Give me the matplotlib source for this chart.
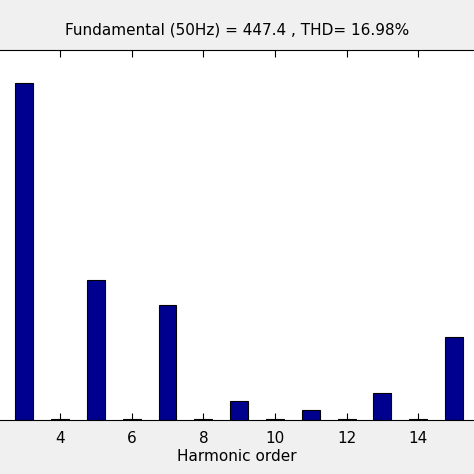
import matplotlib
matplotlib.use("Agg")
import matplotlib.pyplot as plt

orders = [3, 4, 5, 6, 7, 8, 9, 10, 11, 12, 13, 14, 15]
mags = [14.56, 0.05, 6.05, 0.05, 4.97, 0.05, 0.82, 0.05, 0.43, 0.05, 1.17, 0.05, 3.59]
xticks = [4, 6, 8, 10, 12, 14]

fig = plt.figure(figsize=(4.74, 4.74), dpi=100, facecolor="#f0f0f0")
ax = fig.add_axes([0, 1 - 420/474, 1, 370/474])
ax.bar(orders, mags, width=0.5, color="#00008f", edgecolor="black", linewidth=0.8)
ax.set_xlim(2.32, 15.56)
ax.set_ylim(0, 16.0)
ax.set_xticks(xticks)
ax.set_yticks([])
ax.tick_params(axis="x", direction="in", top=True, length=5, labelsize=11, pad=8)
for s in ["left", "right"]:
    ax.spines[s].set_visible(False)
ax.set_xlabel("Harmonic order", fontsize=11, labelpad=2)
fig.text(0.5, 1 - 30/474, "Fundamental (50Hz) = 447.4 , THD= 16.98%", ha="center", va="center", fontsize=11)
fig.savefig("out.png", dpi=100, facecolor=fig.get_facecolor())
